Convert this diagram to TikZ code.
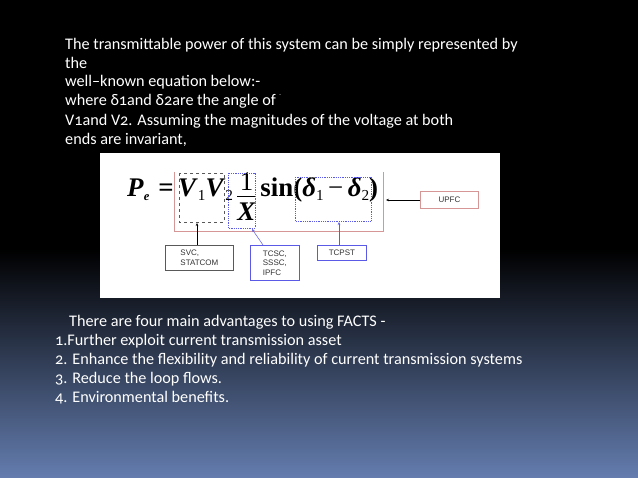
\documentclass[tikz,border=0pt]{standalone}
\usepackage{fontspec}
\setmainfont{Carlito}[Numbers=OldStyle]
\newfontfamily\eqfont{Liberation Serif}
\newfontfamily\boxfont{Liberation Sans}
\usetikzlibrary{arrows.meta}
\newcommand{\eqsub}[1]{\raisebox{-0.35ex}{\fontsize{17}{17}\selectfont\mdseries\upshape #1}}
\begin{document}
\begin{tikzpicture}[x=1pt,y=-1pt,
  txt/.style={anchor=west,text=white,font=\fontsize{16.2}{17}\selectfont,inner sep=0pt},
  lbl/.style={anchor=north west,draw,line width=0.8pt,font=\boxfont\fontsize{8}{9.5}\selectfont,align=left,inner sep=2pt,text=black!80},
  arr/.style={-{Stealth[length=3pt,width=2.5pt]},line width=0.5pt}]
\definecolor{bgbot}{RGB}{100,125,175}
\definecolor{pinkb}{RGB}{215,150,150}
\definecolor{blueb}{RGB}{90,90,230}
\useasboundingbox (0,0) rectangle (638,478);
\fill[black] (0,0) rectangle (638,250);
\shade[top color=black,bottom color=bgbot] (0,249) rectangle (638,478);
% text
\node[txt] (t1) at (65,45) {The transmittable power of this system can be simply represented by};
\node[txt] (t2) at (65,63) {the};
\node[txt] (t3) at (65,82) {well–known equation below:-};
\node[txt] (t4) at (65,101) {where δ1and δ2are the angle of \raisebox{0.8ex}{\scriptsize ˙}};
\node[txt] (t5) at (65,121) {V1and V2. Assuming the magnitudes of the voltage at both};
\node[txt] (t6) at (65,140) {ends are invariant,};
% panel
\fill[white] (100,153) rectangle (500,298);
\draw[pinkb,line width=0.8pt] (174,172) -- (174,231) -- (383,231) -- (383,172);
\node[anchor=west,inner sep=0pt] (eq) at (127,200)
 {\resizebox{251pt}{!}{\eqfont\bfseries\fontsize{30}{30}\selectfont
  \textit{P}\raisebox{-0.35ex}{\fontsize{14}{14}\selectfont\textit{e}}\,\,=\,\textit{V}\eqsub{1}\textit{V}\eqsub{2}\,%
  \raisebox{-0.75ex}{\begin{tabular}{@{}c@{}}\mdseries 1\\[-3pt]\hline\\[-24pt]\textit{X}\end{tabular}}\,%
  sin(\textit{δ}\eqsub{1}\,\mdseries−\,\bfseries\textit{δ}\eqsub{2})}};
\draw[gray!70!black,dashed,line width=0.7pt] (179,173) rectangle (224,222);
\draw[blueb,densely dotted,line width=0.8pt] (228,173) rectangle (255,228);
\draw[blueb,densely dotted,line width=0.8pt] (295,177) rectangle (371,221);
\coordinate (a1) at (197,223);
\coordinate (a2) at (252,229);
\coordinate (a3) at (339,222);
\coordinate (a4) at (386,200);
\node[lbl,draw=pinkb,minimum width=58pt,minimum height=17pt,anchor=west] (upfc) at (420,200) {UPFC};
\node[lbl,draw=gray!70!black,minimum width=68pt,minimum height=25pt] (svc) at (165,245) {SVC,\\STATCOM};
\node[lbl,draw=blueb,minimum width=49pt,minimum height=35pt] (tcsc) at (250,245) {TCSC,\\SSSC,\\IPFC};
\node[lbl,draw=blueb,minimum width=49pt,minimum height=15pt] (tcpst) at (317,245) {TCPST};
\draw[arr] (upfc.west) -- (a4);
\draw[arr] (svc.north -| a1) -- (a1);
\draw[arr,blueb] (263,245) -- (a2);
\draw[arr,blueb] (tcpst.north -| a3) -- (a3);
% list
\node[txt] (l0) at (69,322) {There are four main advantages to using FACTS -};
\node[txt] (l1) at (55,341) {1.Further exploit current transmission asset};
\node[txt] (l2) at (55,360) {2. Enhance the flexibility and reliability of current transmission systems};
\node[txt] (l3) at (55,379) {3. Reduce the loop flows.};
\node[txt] (l4) at (55,398) {4. Environmental benefits.};
\end{tikzpicture}
\end{document}
